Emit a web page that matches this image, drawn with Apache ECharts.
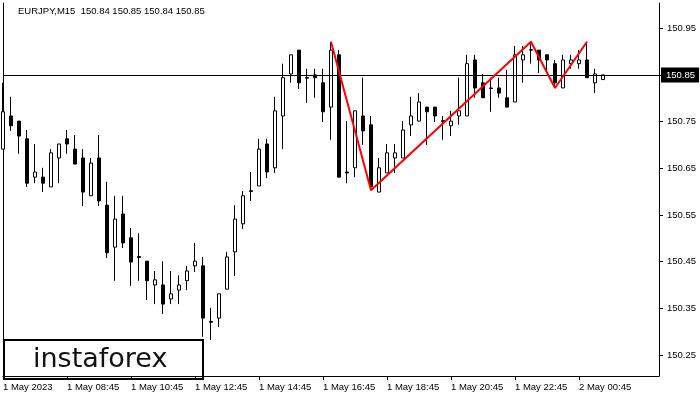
<!DOCTYPE html>
<html>
<head>
<meta charset="utf-8">
<script src="https://cdn.jsdelivr.net/npm/echarts@6/dist/echarts.min.js"></script>
<style>html,body{margin:0;padding:0;background:#fff}#c{width:700px;height:400px}</style>
</head>
<body>
<div id="c"></div>
<script>
const FONT = "'Liberation Sans',Arial,sans-serif";
const titleText = 'EURJPY,M15  150.84 150.85 150.84 150.85';
const tickLabels = ['1 May 2023','1 May 08:45','1 May 10:45','1 May 12:45','1 May 14:45','1 May 16:45','1 May 18:45','1 May 20:45','1 May 22:45','2 May 00:45'];
const priceTicks = [150.25,150.35,150.45,150.55,150.65,150.75,150.85,150.95];
const currentPrice = 150.85;

const opens  = [150.691,150.762,150.751,150.713,150.631,150.631,150.610,150.672,150.713,150.691,150.672,150.591,150.672,150.571,150.481,150.552,150.501,150.461,150.451,150.400,150.400,150.370,150.389,150.409,150.441,150.441,150.322,150.329,150.391,150.471,150.531,150.600,150.612,150.702,150.651,150.762,150.852,150.903,150.844,150.850,150.833,150.781,150.893,150.642,150.651,150.762,150.743,150.599,150.640,150.672,150.672,150.743,150.751,150.781,150.781,150.752,150.741,150.762,150.762,150.882,150.833,150.822,150.822,150.801,150.792,150.882,150.904,150.903,150.893,150.874,150.822,150.874,150.874,150.882,150.833,150.84];
const closes = [150.771,150.741,150.719,150.618,150.642,150.618,150.683,150.702,150.702,150.659,150.599,150.661,150.580,150.469,150.541,150.490,150.449,150.459,150.409,150.411,150.359,150.381,150.400,150.430,150.451,150.329,150.320,150.381,150.460,150.541,150.591,150.602,150.691,150.642,150.773,150.844,150.893,150.833,150.843,150.844,150.771,150.903,150.631,150.640,150.773,150.730,150.610,150.651,150.683,150.683,150.732,150.762,150.792,150.771,150.762,150.750,150.751,150.773,150.874,150.822,150.801,150.821,150.811,150.781,150.893,150.893,150.903,150.882,150.882,150.833,150.882,150.882,150.882,150.844,150.852,150.85];
const lows   = [150.691,150.730,150.681,150.610,150.618,150.599,150.610,150.618,150.681,150.659,150.569,150.591,150.569,150.458,150.409,150.479,150.398,150.409,150.368,150.359,150.338,150.359,150.359,150.389,150.428,150.289,150.282,150.310,150.391,150.419,150.520,150.580,150.612,150.629,150.640,150.691,150.833,150.820,150.790,150.801,150.749,150.711,150.631,150.618,150.631,150.700,150.603,150.599,150.640,150.640,150.672,150.719,150.751,150.700,150.749,150.711,150.719,150.743,150.762,150.801,150.801,150.771,150.801,150.781,150.792,150.833,150.874,150.854,150.854,150.822,150.822,150.863,150.863,150.844,150.811,150.84];
const highs  = [150.833,150.803,150.751,150.732,150.702,150.651,150.691,150.702,150.732,150.721,150.691,150.672,150.721,150.621,150.591,150.591,150.522,150.511,150.451,150.430,150.451,150.430,150.421,150.441,150.490,150.460,150.351,150.381,150.471,150.571,150.601,150.642,150.713,150.713,150.803,150.874,150.893,150.903,150.863,150.863,150.863,150.921,150.903,150.751,150.773,150.844,150.762,150.672,150.702,150.702,150.751,150.803,150.811,150.781,150.781,150.762,150.773,150.844,150.893,150.893,150.852,150.844,150.844,150.861,150.912,150.912,150.921,150.903,150.893,150.882,150.893,150.893,150.903,150.921,150.863,150.85];

// pattern line: bar index and price of each vertex
const patternIdx = [41, 46, 66, 69, 73];
const patternPrice = [150.921, 150.603, 150.921, 150.822, 150.921];

const totalSlots = 83; // bars plus empty right margin
const categories = [];
for (let i = 0; i < totalSlots; i++) categories.push(String(i));

const candleData = opens.map((o, i) => [o, closes[i], lows[i], highs[i]]);
const patternData = patternIdx.map((k, i) => [k, patternPrice[i]]);

const showTick = (i) => i % 8 === 0 && (i / 8) < tickLabels.length;

const chart = echarts.init(document.getElementById('c'), null, {renderer: 'canvas'});
chart.setOption({
  animation: false,
  backgroundColor: '#fff',
  title: {
    text: titleText, left: 18, top: 6, padding: 0,
    textStyle: {fontFamily: FONT, fontSize: 9.5, fontWeight: 'normal', color: '#000'}
  },
  grid: {left: 3, right: 41, top: 3, bottom: 24, show: false, containLabel: false, outerBoundsMode: 'none'},
  xAxis: {
    type: 'category', data: categories, boundaryGap: false,
    axisLine: {show: true, lineStyle: {color: '#000', width: 1}},
    axisTick: {show: true, interval: (i) => showTick(i), length: 4, lineStyle: {color: '#000'}},
    axisLabel: {
      interval: (i) => showTick(i), align: 'left', margin: 6,
      fontFamily: FONT, fontSize: 9.5, color: '#000',
      formatter: (v, i) => tickLabels[i / 8] || ''
    },
    splitLine: {show: false}
  },
  yAxis: [{
    type: 'value', position: 'right', min: 150.205, max: 151.004, scale: true,
    axisLine: {show: true, lineStyle: {color: '#000', width: 1}},
    axisTick: {show: true, length: 4, customValues: priceTicks, lineStyle: {color: '#000'}},
    axisLabel: {customValues: priceTicks, margin: 8, fontFamily: FONT, fontSize: 9.5, color: '#000',
      formatter: (v) => v.toFixed(2)},
    splitLine: {show: false}
  }, {
    type: 'value', position: 'left', min: 150.205, max: 151.004,
    axisLine: {show: true, lineStyle: {color: '#000', width: 1}},
    axisTick: {show: false}, axisLabel: {show: false}, splitLine: {show: false}
  }],
  series: [{
    type: 'candlestick', data: candleData, barWidth: 4, clip: true,
    itemStyle: {color: '#fff', color0: '#000', borderColor: '#000', borderColor0: '#000', borderWidth: 1},
    markLine: {
      silent: true, symbol: ['none', 'none'],
      lineStyle: {color: '#000', width: 1, type: 'solid'},
      label: {
        position: 'end', distance: 2, formatter: currentPrice.toFixed(2),
        backgroundColor: '#000', color: '#fff', padding: [3, 4, 2, 5],
        fontFamily: FONT, fontSize: 9.5
      },
      data: [{yAxis: currentPrice}]
    }
  }, {
    type: 'line', data: patternData, showSymbol: false, symbol: 'none', z: 5,
    lineStyle: {color: '#ff0000', width: 2}
  }],
  graphic: [{
    type: 'group', left: 3, top: 339,
    children: [{
      type: 'rect', shape: {x: 0, y: 0, width: 199, height: 39},
      style: {fill: '#fff', stroke: '#000', lineWidth: 2}
    }, {
      type: 'text', x: 29, y: 6,
      style: {text: 'instaforex', fontFamily: "'DejaVu Sans',sans-serif", fontSize: 27, fill: '#111'}
    }]
  }]
});
</script>
</body>
</html>
